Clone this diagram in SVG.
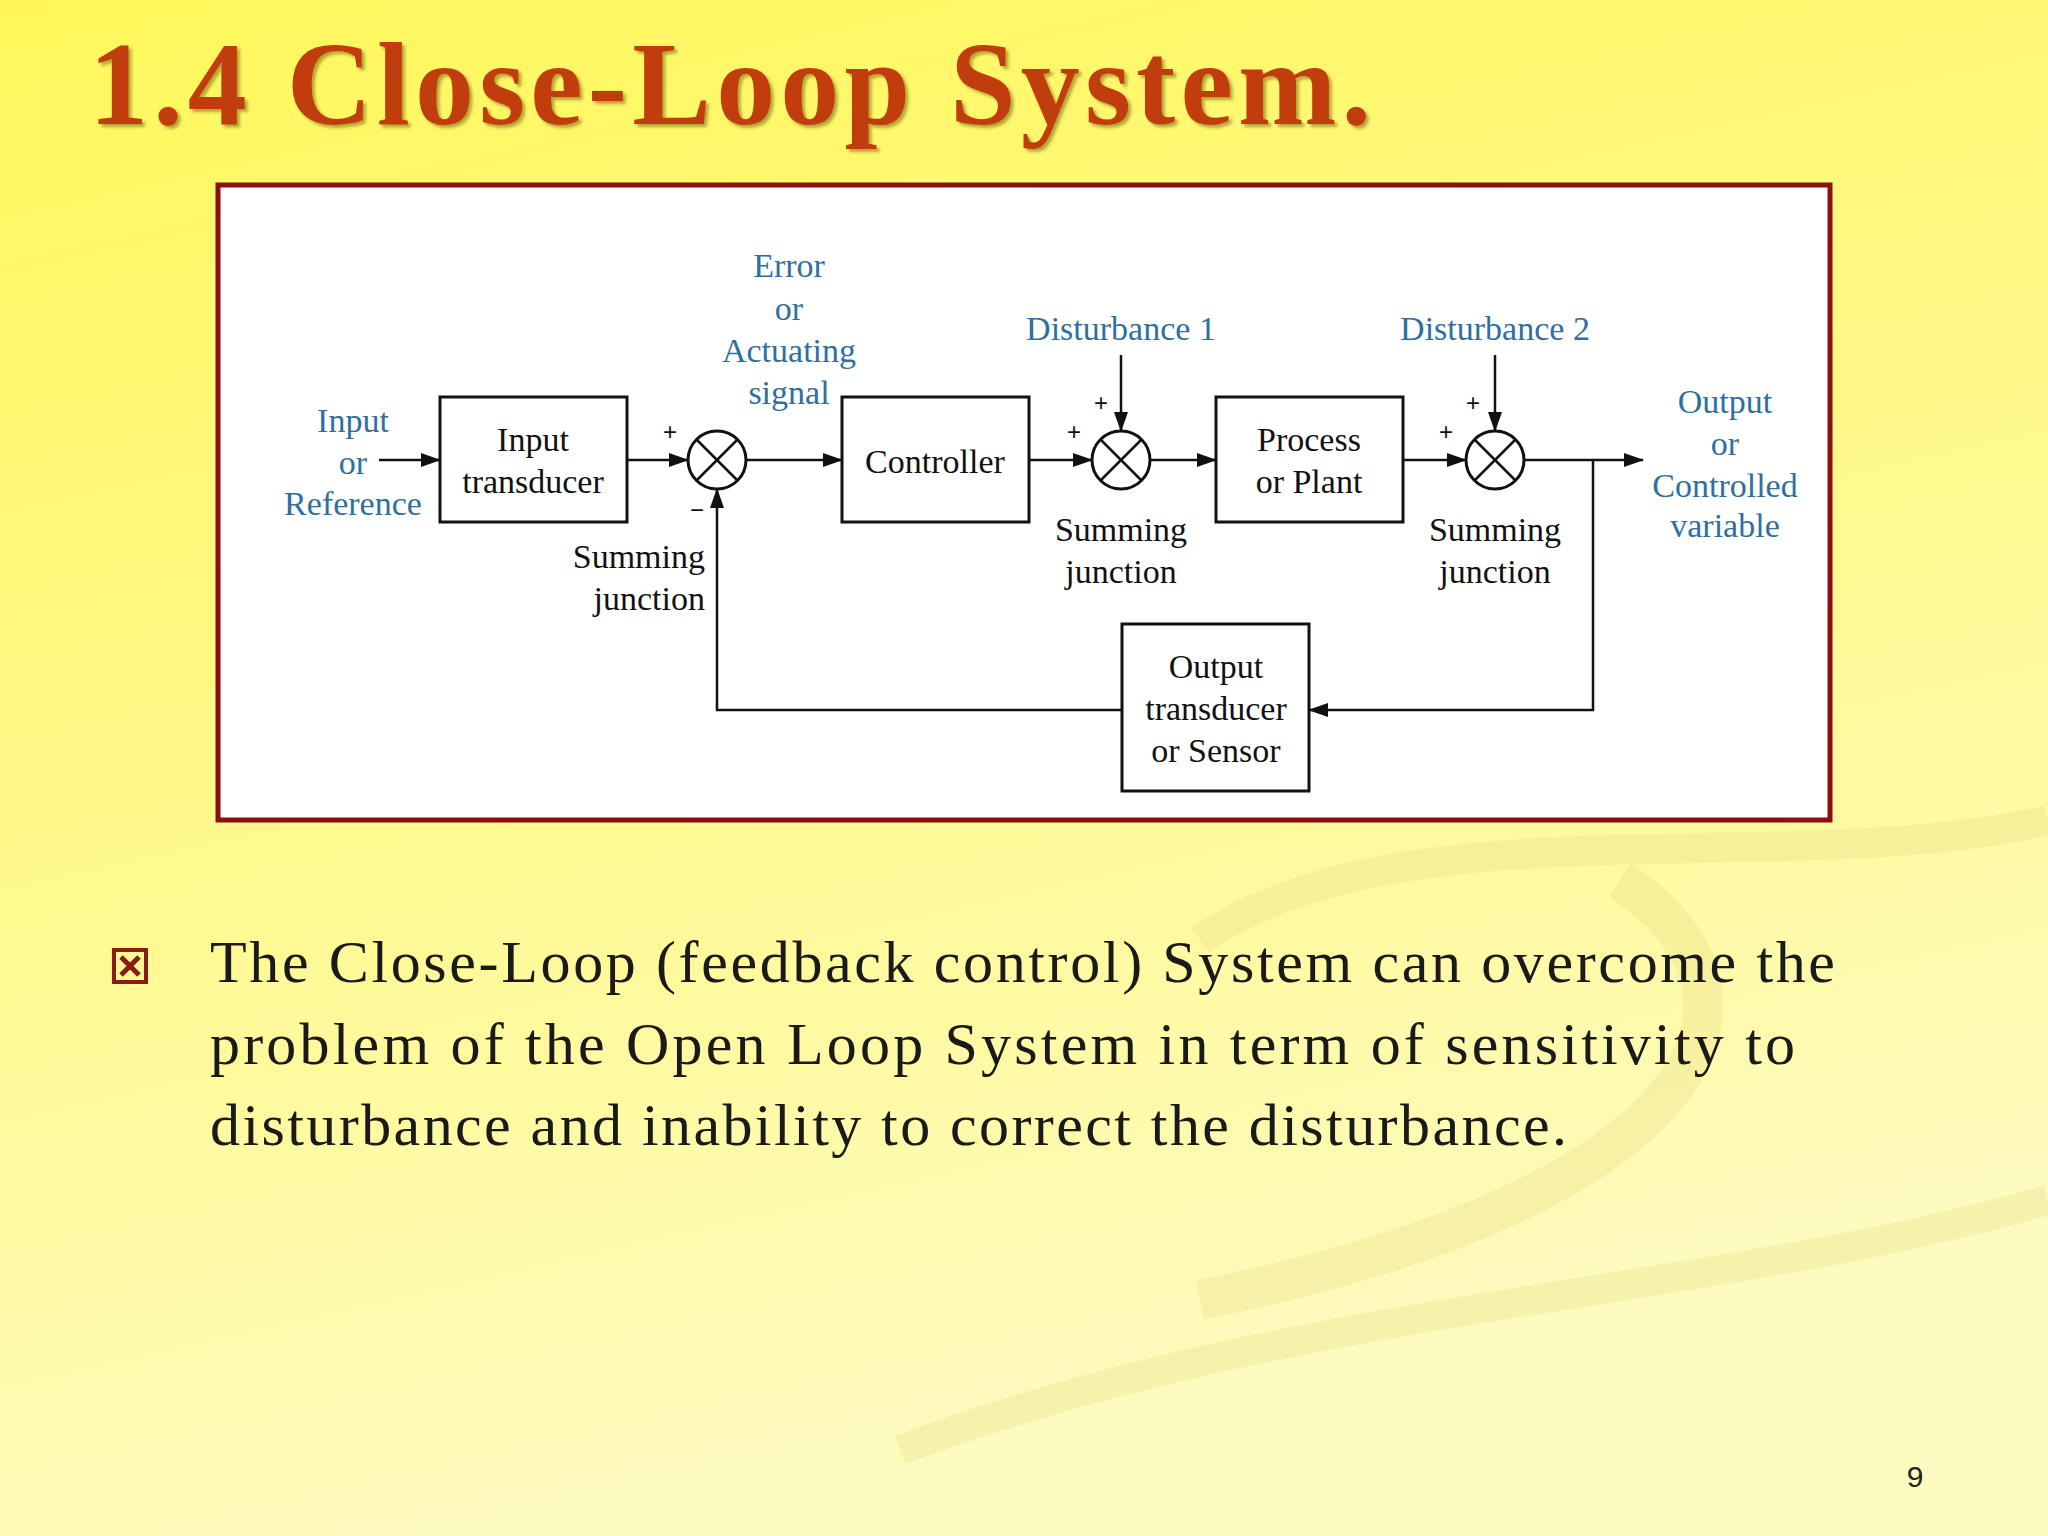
<svg xmlns="http://www.w3.org/2000/svg" width="2048" height="1536" viewBox="0 0 2048 1536">
<defs>
<linearGradient id="bg" x1="0" y1="0" x2="0.3" y2="1">
<stop offset="0" stop-color="#fff75a"/>
<stop offset="0.5" stop-color="#fff98a"/>
<stop offset="1" stop-color="#fdfbc0"/>
</linearGradient>
<marker id="ah" markerWidth="20" markerHeight="14" refX="19" refY="7" orient="auto" markerUnits="userSpaceOnUse">
<path d="M0,0 L20,7 L0,14 z" fill="#111"/>
</marker>
<filter id="sh"><feDropShadow dx="3" dy="3" stdDeviation="1.5" flood-color="#6a5a00" flood-opacity="0.5"/></filter>
</defs>
<style>
.box{fill:#fff;stroke:#111;stroke-width:3}
.sj{fill:#fff;stroke:#111;stroke-width:3}
.ln{fill:none;stroke:#111;stroke-width:2.5}
.bt{font-family:"Liberation Serif",serif;font-size:34px;fill:#111;text-anchor:middle;dominant-baseline:central}
.lb{font-family:"Liberation Serif",serif;font-size:34px;fill:#2f6f9f;text-anchor:middle;dominant-baseline:central}
.sg{font-family:"Liberation Sans",sans-serif;font-size:24px;fill:#111;text-anchor:middle;dominant-baseline:central}
.body{font-family:"Liberation Serif",serif;font-size:60px;fill:#1a1a1a}
</style>
<rect width="2048" height="1536" fill="url(#bg)"/>
<g fill="none" stroke="#e8dc80" opacity="0.3">
<path d="M1200,940 C1400,800 1800,880 2048,820" stroke-width="30"/>
<path d="M1620,880 C1800,1000 1700,1200 1200,1300" stroke-width="40"/>
<path d="M900,1450 C1300,1300 1700,1300 2048,1200" stroke-width="30"/>
</g>
<text x="89" y="124" font-family="Liberation Serif,serif" font-weight="bold" font-size="118" fill="#c23c0c" filter="url(#sh)" textLength="1282" lengthAdjust="spacing">1.4 Close-Loop System.</text>
<rect x="218" y="185" width="1612" height="635" fill="#fff" stroke="#8b0f0f" stroke-width="5"/>
<g id="connectors">
<line class="ln" x1="379" y1="460" x2="440" y2="460" marker-end="url(#ah)"/>
<line class="ln" x1="627" y1="460" x2="688" y2="460" marker-end="url(#ah)"/>
<line class="ln" x1="746" y1="460" x2="842" y2="460" marker-end="url(#ah)"/>
<line class="ln" x1="1029" y1="460" x2="1092" y2="460" marker-end="url(#ah)"/>
<line class="ln" x1="1150" y1="460" x2="1216" y2="460" marker-end="url(#ah)"/>
<line class="ln" x1="1403" y1="460" x2="1466" y2="460" marker-end="url(#ah)"/>
<line class="ln" x1="1524" y1="460" x2="1643" y2="460" marker-end="url(#ah)"/>
<line class="ln" x1="1121" y1="355" x2="1121" y2="431" marker-end="url(#ah)"/>
<line class="ln" x1="1495" y1="355" x2="1495" y2="431" marker-end="url(#ah)"/>
<polyline class="ln" points="1593,460 1593,710 1309,710" marker-end="url(#ah)"/>
<polyline class="ln" points="1122,710 717,710 717,489" marker-end="url(#ah)"/>
</g>
<g id="input-transducer"><rect class="box" x="440" y="397" width="187" height="125"/><text class="bt" x="533" y="439">Input</text><text class="bt" x="533" y="481">transducer</text></g>
<g id="controller"><rect class="box" x="842" y="397" width="187" height="125"/><text class="bt" x="935" y="461">Controller</text></g>
<g id="process"><rect class="box" x="1216" y="397" width="187" height="125"/><text class="bt" x="1309" y="439">Process</text><text class="bt" x="1309" y="481">or Plant</text></g>
<g id="sensor"><rect class="box" x="1122" y="624" width="187" height="167"/><text class="bt" x="1216" y="666">Output</text><text class="bt" x="1216" y="708">transducer</text><text class="bt" x="1216" y="750">or Sensor</text></g>
<g id="sj1"><circle class="sj" cx="717" cy="460" r="29"/><path class="ln" d="M696.5,439.5 L737.5,480.5 M737.5,439.5 L696.5,480.5"/><text class="sg" x="670" y="431">+</text><text class="sg" x="697" y="509">−</text></g>
<g id="sj2"><circle class="sj" cx="1121" cy="460" r="29"/><path class="ln" d="M1100.5,439.5 L1141.5,480.5 M1141.5,439.5 L1100.5,480.5"/><text class="sg" x="1074" y="431">+</text><text class="sg" x="1101" y="402">+</text></g>
<g id="sj3"><circle class="sj" cx="1495" cy="460" r="29"/><path class="ln" d="M1474.5,439.5 L1515.5,480.5 M1515.5,439.5 L1474.5,480.5"/><text class="sg" x="1446" y="431">+</text><text class="sg" x="1473" y="402">+</text></g>
<g id="labels">
<text class="lb" x="353" y="420">Input</text><text class="lb" x="353" y="462">or</text><text class="lb" x="353" y="503">Reference</text>
<text class="lb" x="789" y="265">Error</text><text class="lb" x="789" y="308">or</text><text class="lb" x="789" y="350">Actuating</text><text class="lb" x="789" y="392">signal</text>
<text class="lb" x="1121" y="328">Disturbance 1</text>
<text class="lb" x="1495" y="328">Disturbance 2</text>
<text class="lb" x="1725" y="401">Output</text><text class="lb" x="1725" y="443">or</text><text class="lb" x="1725" y="485">Controlled</text><text class="lb" x="1725" y="525">variable</text>
<text class="bt" x="705" y="556" style="text-anchor:end">Summing</text><text class="bt" x="705" y="598" style="text-anchor:end">junction</text>
<text class="bt" x="1121" y="529">Summing</text><text class="bt" x="1121" y="571">junction</text>
<text class="bt" x="1495" y="529">Summing</text><text class="bt" x="1495" y="571">junction</text>
</g>
<g id="bullet"><rect x="114" y="950" width="32" height="32" fill="none" stroke="#8b1a1a" stroke-width="4"/><path d="M121,957 L139,975 M139,957 L121,975" stroke="#8b1a1a" stroke-width="5"/></g>
<text class="body" x="210" y="982" textLength="1625" lengthAdjust="spacing">The Close-Loop (feedback control) System can overcome the</text>
<text class="body" x="210" y="1064" textLength="1585" lengthAdjust="spacing">problem of the Open Loop System in term of sensitivity to</text>
<text class="body" x="210" y="1145" textLength="1357" lengthAdjust="spacing">disturbance and inability to correct the disturbance.</text>
<text x="1915" y="1487" font-family="Liberation Sans,sans-serif" font-size="30" fill="#222" text-anchor="middle">9</text>
</svg>
